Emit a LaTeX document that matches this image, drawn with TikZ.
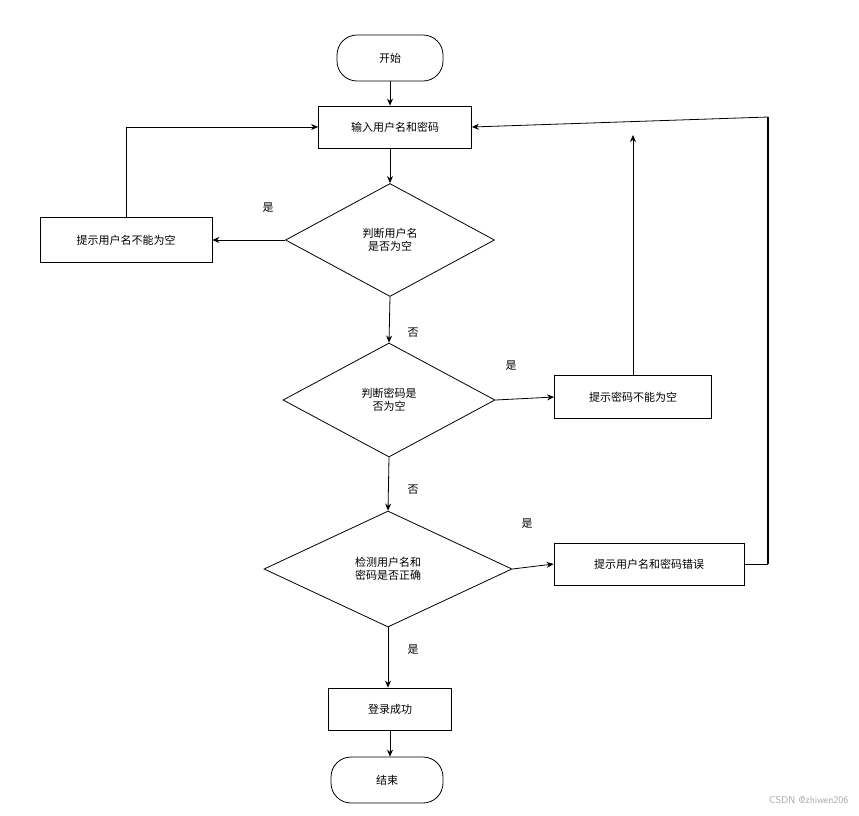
\documentclass[tikz,border=0pt]{standalone}
\usepackage{fontspec}
\setmainfont{Noto Sans CJK SC}
\usetikzlibrary{shapes.geometric,arrows.meta}
\begin{document}
\begin{tikzpicture}[x=1pt,y=-1pt,font=\fontsize{11}{13}\selectfont,
 box/.style={draw,thick,minimum height=42pt,inner sep=0pt,align=center},
 term/.style={draw,thick,rounded corners=20pt,minimum height=46pt,inner sep=0pt},
 dia/.style={draw,thick,diamond,inner sep=0pt,align=center},
 arr/.style={thick,-{Stealth[length=7pt,width=6pt]}},
 lab/.style={inner sep=1pt}]
\useasboundingbox (0,0) rectangle (859,815);
\node[term,minimum width=106pt] (start) at (390,58) {开始};
\node[box,minimum width=153pt] (input) at (395,127) {输入用户名和密码};
\node[dia,minimum width=209pt,minimum height=113pt] (d1) at (390,240) {判断用户名\\是否为空};
\node[box,minimum width=172pt,minimum height=45pt] (e1) at (126,240) {提示用户名不能为空};
\node[dia,minimum width=212pt,minimum height=114pt] (d2) at (389,400) {判断密码是\\否为空};
\node[box,minimum width=157pt,minimum height=43pt] (e2) at (633,397) {提示密码不能为空};
\node[dia,minimum width=248pt,minimum height=116pt] (d3) at (388,569) {检测用户名和\\密码是否正确};
\node[box,minimum width=190pt] (e3) at (649,564) {提示用户名和密码错误};
\node[box,minimum width=123pt] (ok) at (390,709) {登录成功};
\node[term,minimum width=112pt] (end) at (387,780) {结束};
\coordinate (c1) at (126,127);
\coordinate (c2) at (633,135);
\coordinate (c3) at (768,564);
\coordinate (c4) at (768,117);
\draw[arr] (start) -- (start|-input.north);
\draw[arr] (input.south-|d1.north) -- (d1.north);
\draw[arr] (d1.west) -- (e1.east);
\draw[arr] (e1.north) -- (c1) -- (input.west|-c1);
\draw[arr] (d1.south) -- (d2.north);
\draw[arr] (d2.east) -- (e2.west);
\draw[arr] (e2.north) -- (c2);
\draw[arr] (d2.south) -- (d3.north);
\draw[arr] (d3.east) -- (e3.west);
\draw[thick] (e3.east) -- (c3);
\draw[line width=1.6pt] (c3) -- (c4);
\draw[arr] (c4) -- (input.east);
\draw[arr] (d3.south) -- (d3.south|-ok.north);
\draw[arr] (ok.south) -- (ok.south|-end.north);
\node[lab] (l1) at (268,208) {是};
\node[lab] (l2) at (413,333) {否};
\node[lab] (l3) at (511,366) {是};
\node[lab] (l4) at (413,490) {否};
\node[lab] (l5) at (527,524) {是};
\node[lab] (l6) at (413,650) {是};
\node[text=gray!70,font=\fontsize{10}{12}\selectfont\sffamily,anchor=east] (wm) at (852,800) {CSDN @zhiwen206};
\end{tikzpicture}
\end{document}
